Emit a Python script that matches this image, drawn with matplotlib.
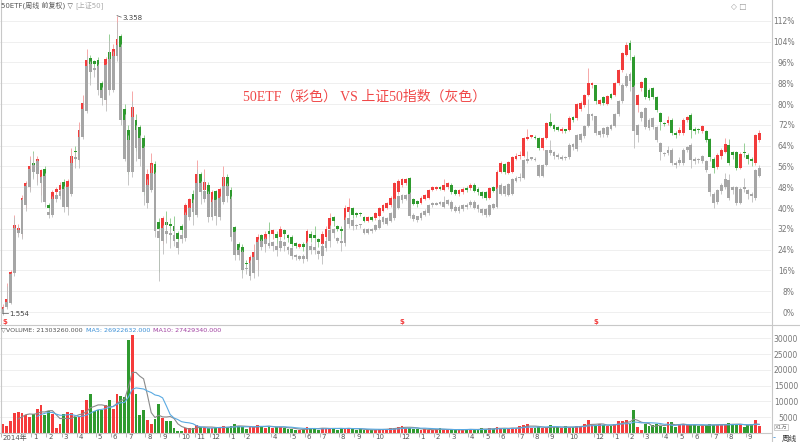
import numpy as np
import pandas as pd
import matplotlib
matplotlib.use("Agg")
import matplotlib.pyplot as plt
from matplotlib.lines import Line2D
from matplotlib.transforms import blended_transform_factory

plt.rcParams["font.family"] = ["DejaVu Sans", "Noto Sans CJK SC"]

# ---- 50ETF weekly candles, % change from the 1.554 low ----
ETF_O = [
    0, 3, 4.5, 16, 31.5, 31, 42, 49, 57.5, 54,
    52, 55, 41, 40, 46, 47, 50, 43, 48, 62,
    61, 70, 80, 97.7, 96.5, 97, 88, 84, 100, 88,
    101, 106, 78, 70, 58, 74, 71, 67, 46, 51,
    57, 34.6, 31, 34.6, 34, 33, 30.5, 33, 32, 40,
    45.5, 41, 53, 47, 49, 40, 46.5, 40, 46, 52,
    47, 32.7, 26, 25, 19, 16, 17, 22, 29.5, 28,
    31, 30, 30, 29, 31.5, 29.5, 29, 26.5, 25, 26,
    25, 30, 29.5, 28, 26, 29, 32, 36.5, 33, 32,
    31, 38.5, 40, 38, 38, 36.5, 35, 36.5, 36, 37,
    39, 40, 41, 42, 46, 49, 49.5, 51.5, 43.5, 42.8,
    42, 43.5, 44, 47, 47.3, 48.2, 47, 48, 49, 47,
    45.5, 46, 47.8, 47.6, 49, 47.5, 46, 46, 44, 48,
    47, 54, 57, 53.5, 54, 59, 60, 60, 66.5, 67.5,
    67.5, 67, 63, 67, 73, 72, 71, 69.5, 70, 70,
    75, 74.6, 78, 79.6, 83.5, 87.3, 87.3, 80, 82.7, 80,
    83.8, 83.5, 88, 93, 99, 103.5, 98, 79.5, 86, 90,
    85.4, 86, 82.7, 76.5, 72.7, 72.7, 74, 69, 68.8, 68.8,
    74, 75.8, 70.4, 70.3, 69.6, 69.6, 66.5, 58.8, 55.8, 60,
    61.5, 64.2, 61.5, 61.5, 55.4, 61.5, 60.4, 58.8, 57.3, 66,
]
ETF_C = [
    2, 5, 15.5, 33.5, 32.5, 44, 49.5, 56, 55, 59,
    54.5, 45, 40, 46, 47.5, 49, 43, 50.5, 60, 61.5,
    70, 80.5, 97, 95, 95.5, 88, 85, 97.5, 88, 101,
    105, 78, 63, 58, 79, 67, 63, 50, 53, 57.5,
    35, 32, 36, 33.5, 33, 31, 28, 31.5, 41, 43.5,
    42, 53, 49.5, 50, 40, 46, 40.5, 47.5, 52, 48,
    32.5, 24, 24, 18, 18.5, 21, 23, 29, 27, 30,
    30, 31.5, 28.5, 32, 30, 28.5, 26, 25.5, 26, 25,
    31, 28.5, 28.5, 27, 30, 32, 36, 35, 32, 31,
    40, 40.5, 37.5, 37.5, 37.8, 35, 36.5, 35.5, 38, 40,
    41, 42, 44, 49.5, 50.5, 51, 51, 43, 41.7, 41.5,
    44, 45, 47, 48, 48, 47.5, 49, 49.5, 46, 45.5,
    47, 47.5, 47, 49, 46.5, 46, 44.5, 44, 47.7, 46.5,
    54, 57.5, 54, 57.7, 59.6, 60, 60.5, 67, 67.5, 67.7,
    67, 63, 67, 72.7, 71.7, 70.5, 70, 70.3, 69.8, 74.8,
    73.8, 80, 80.5, 83.5, 88, 88, 81, 81.5, 80.3, 83,
    82.5, 88, 93, 99.5, 102.7, 100.8, 81, 83.5, 88.5, 82.7,
    82.3, 82.7, 77.7, 73, 72.3, 73.8, 68.8, 68, 70, 73.8,
    75, 70, 69.6, 69.9, 71.5, 66, 59.6, 55.4, 60.4, 62.3,
    64.6, 57.3, 60.5, 55.4, 60.8, 61, 59, 58, 68, 68.8,
]
ETF_H = [
    3, 11, 16, 37.5, 34, 45, 50.5, 60, 62, 60,
    55, 56, 42, 47, 48, 50, 51, 51, 63, 64,
    73, 83.5, 101, 99, 97, 98, 89, 98, 107, 103,
    114, 107, 80, 72, 85, 76, 72, 68, 55, 61,
    58, 36, 37, 39, 36, 37, 31, 34, 42, 44,
    47, 58.5, 54, 55, 50, 47, 47, 48, 56, 53,
    48, 33, 27, 26, 20, 22, 26, 30, 30, 31,
    34.5, 32, 31, 33, 32, 30, 29.5, 27, 26.5, 27,
    32, 31, 33, 28.5, 31, 33, 38, 37, 33.5, 33,
    41, 44, 40.5, 38.5, 38.5, 37, 37, 37, 38.5, 40.5,
    41.5, 42.5, 44.5, 50, 51, 51.5, 51.5, 52, 44, 43,
    44.5, 45.5, 47.5, 48.5, 48.5, 48.6, 51, 50, 49.5, 47.5,
    47.5, 48, 48.5, 49.5, 49.5, 48, 46.5, 46.5, 48, 48.5,
    54.5, 58, 57.5, 58, 60, 61, 62, 67.5, 70.5, 68,
    68, 67.5, 67.5, 73, 76.5, 72.5, 71.5, 71, 70.5, 75.5,
    75.5, 80.5, 81, 84, 94, 88.5, 87.5, 82, 83, 83.5,
    84.3, 88.5, 93.5, 100, 104, 104.5, 99, 84, 89, 90.5,
    86, 86.5, 83, 77, 73, 75.5, 74.5, 69.5, 71, 74.5,
    75.5, 76.5, 71, 70.8, 72, 70, 67, 59.5, 61, 63,
    67, 66.5, 62, 62, 61.5, 65, 61, 59.5, 68.5, 70,
]
ETF_L = [
    0, 2, 4, 15, 30, 29, 40, 47, 52, 50,
    45, 43, 38.5, 39, 45, 46, 41, 40, 47, 58,
    58, 69, 79, 90, 93, 86, 82, 80, 86, 87,
    99, 76, 62, 53, 56, 62, 60, 45, 44, 50,
    33, 15.5, 26, 30, 28, 29, 26, 30, 31, 39,
    37, 40, 45, 46, 38, 39, 37, 39, 45, 46,
    31, 22, 22, 15, 16.5, 14.5, 15, 16, 26, 25,
    29, 28, 26, 28, 28, 27, 25, 24.5, 24.5, 23.5,
    24, 27, 27, 25, 23, 28, 29.5, 33, 31, 28,
    30, 37, 36, 36.5, 37, 34.5, 34.5, 35, 35.5, 36.5,
    38.5, 39.5, 40.5, 41.5, 45.5, 48, 49, 42, 41, 40.5,
    41.5, 43, 43.5, 46.5, 47, 47, 46.5, 47.5, 45.5, 45,
    44.5, 45.5, 46, 47, 46, 45, 44, 43, 43.5, 46,
    46.5, 53.5, 53, 53, 53.5, 58.5, 59, 59.5, 66, 67,
    66.5, 62.5, 62.5, 66.5, 71, 69.5, 69.5, 69, 69, 69.5,
    73, 74, 77.5, 79, 83, 86, 80, 79.5, 79.5, 79.5,
    82, 83, 87.5, 92.5, 98.5, 97, 78, 77, 85, 82,
    81.5, 82, 77, 70, 71.5, 72, 68, 67, 68, 68,
    73, 67, 68.5, 69, 69, 65.5, 58, 53.5, 55, 59,
    61, 56.5, 59, 54.5, 55, 59.5, 57, 56, 56.5, 65.5,
]

# ---- SSE 50 index weekly candles (grey), same % scale ----
IDX_O = [
    -0.5, 2, 3.5, 15, 30.5, 30, 41, 48, 56.5, 53,
    49.5, 52.5, 38.5, 37.5, 43.5, 44.5, 47.5, 40.5, 45.5, 59.5,
    58.5, 67.5, 77.5, 95.2, 94, 94.5, 85.5, 81.5, 97.5, 85.5,
    98.5, 102, 74, 66, 54, 70, 67, 63, 42, 47,
    53, 31.1, 27.5, 31.1, 30.5, 29.5, 27, 29.5, 28.5, 36.5,
    42, 37.5, 49.5, 43.5, 45.5, 36.5, 43, 36.5, 42.5, 48.5,
    43.5, 30.7, 24, 23, 17, 14, 15, 20, 27.5, 26,
    26.5, 25.5, 25.5, 24.5, 27, 25, 24.5, 22, 20.5, 21.5,
    20.5, 25.5, 25, 23.5, 21.5, 24.5, 27.5, 32, 28.5, 27.5,
    26.5, 34, 35.5, 33.5, 33.5, 32, 30.5, 32, 31.5, 32.5,
    34.5, 34, 35, 36, 40, 43, 43.5, 45.5, 37.5, 36.8,
    36, 37.5, 38, 41, 41.3, 42.2, 40.5, 41.5, 42.5, 40.5,
    39, 39.5, 41.3, 41.1, 42.5, 41, 39.5, 39.5, 37.5, 41.5,
    40.5, 45.5, 48.5, 45, 45.5, 50.5, 51.5, 51.5, 58, 59,
    59, 56.5, 52.5, 56.5, 62.5, 61.5, 60.5, 59, 59.5, 59.5,
    64.5, 62.6, 66, 67.6, 71.5, 75.3, 75.3, 68, 70.7, 68,
    71.8, 71.5, 76, 81, 87, 91.5, 86.5, 68, 74.5, 78.5,
    73.9, 74.5, 71.2, 65, 61.2, 61.2, 62.5, 57.5, 57.3, 57.3,
    62.5, 64.3, 58.9, 58.8, 58.1, 58.1, 53, 45.3, 42.3, 46.5,
    48, 50.7, 48, 48, 41.9, 48, 46.9, 45.3, 43.8, 52.5,
]
IDX_C = [
    1, 4, 14.5, 32.5, 31.5, 43, 48.5, 55, 54, 58,
    52, 42.5, 37.5, 43.5, 45, 46.5, 40.5, 48, 57.5, 59,
    67.5, 78, 94.5, 92.5, 93, 85.5, 82.5, 95, 85.5, 98.5,
    102.5, 74, 59, 54, 75, 63, 59, 46, 49, 53.5,
    31, 28.5, 32.5, 30, 29.5, 27.5, 24.5, 28, 37.5, 40,
    38.5, 49.5, 46, 46.5, 36.5, 42.5, 37, 44, 48.5, 44.5,
    29, 22, 22, 16, 16.5, 19, 21, 27, 25, 28,
    25.5, 27, 24, 27.5, 25.5, 24, 21.5, 21, 21.5, 20.5,
    26.5, 24, 24, 22.5, 25.5, 27.5, 31.5, 30.5, 27.5, 26.5,
    35.5, 36, 33, 33, 33.3, 30.5, 32, 31, 33.5, 35.5,
    36.5, 36, 38, 43.5, 44.5, 45, 45, 37, 35.7, 35.5,
    38, 39, 41, 42, 42, 41.5, 42.5, 43, 39.5, 39,
    40.5, 41, 40.5, 42.5, 40, 39.5, 38, 37.5, 41.2, 40,
    47.5, 49, 45.5, 49.2, 51.1, 51.5, 52, 58.5, 59, 59.2,
    58.5, 52.5, 56.5, 62.2, 61.2, 60, 59.5, 59.8, 59.3, 64.3,
    63.3, 68, 68.5, 71.5, 76, 76, 69, 69.5, 68.3, 71,
    70.5, 76, 81, 87.5, 90.7, 88.8, 69.5, 72, 77, 71.2,
    70.8, 71.2, 66.2, 61.5, 60.8, 62.3, 57.3, 56.5, 58.5, 62.3,
    63.5, 58.5, 58.1, 58.4, 60, 54.5, 46.1, 41.9, 46.9, 48.8,
    51.1, 43.8, 47, 41.9, 47.3, 47.5, 45.5, 44.5, 54.5, 55.3,
]
IDX_H = [
    2, 10, 15, 36.5, 33, 44, 49.5, 59, 61, 59,
    52.5, 53.5, 39.5, 44.5, 45.5, 47.5, 48.5, 48.5, 60.5, 61.5,
    70.5, 81, 98.5, 96.5, 94.5, 95.5, 86.5, 95.5, 104.5, 100.5,
    111.5, 103, 76, 68, 81, 72, 68, 64, 51, 57,
    54, 32.5, 33.5, 35.5, 32.5, 33.5, 27.5, 30.5, 38.5, 40.5,
    43.5, 55, 50.5, 51.5, 46.5, 43.5, 43.5, 44.5, 52.5, 49.5,
    44.5, 31, 25, 24, 18, 20, 24, 28, 28, 29,
    30, 27.5, 26.5, 28.5, 27.5, 25.5, 25, 22.5, 22, 22.5,
    27.5, 26.5, 28.5, 24, 26.5, 28.5, 33.5, 32.5, 29, 28.5,
    36.5, 39.5, 36, 34, 34, 32.5, 32.5, 32.5, 34, 36,
    37, 36.5, 38.5, 44, 45, 45.5, 45.5, 46, 38, 37,
    38.5, 39.5, 41.5, 42.5, 42.5, 42.6, 44.5, 43.5, 43, 41,
    41, 41.5, 42, 43, 43, 41.5, 40, 40, 41.5, 42,
    48, 49.5, 49, 49.5, 51.5, 52.5, 53.5, 59, 62, 59.5,
    59.5, 57, 57, 62.5, 66, 62, 61, 60.5, 60, 65,
    65, 68.5, 69, 72, 82, 76.5, 75.5, 70, 71, 71.5,
    72.3, 76.5, 81.5, 88, 92, 92.5, 87.5, 72.5, 77.5, 79,
    74.5, 75, 71.5, 65.5, 61.5, 64, 63, 58, 59.5, 63,
    64, 65, 59.5, 59.3, 60.5, 58.5, 53.5, 46, 47.5, 49.5,
    53.5, 53, 48.5, 48.5, 48, 51.5, 47.5, 46, 55, 56.5,
]
IDX_L = [
    -1, 1, 3, 14, 29, 28, 39, 46, 51, 49,
    42.5, 40.5, 36, 36.5, 42.5, 43.5, 38.5, 37.5, 44.5, 55.5,
    55.5, 66.5, 76.5, 87.5, 90.5, 83.5, 79.5, 77.5, 83.5, 84.5,
    96.5, 72, 58, 49, 52, 58, 56, 41, 40, 46,
    29, 12, 22.5, 26.5, 24.5, 25.5, 22.5, 26.5, 27.5, 35.5,
    33.5, 36.5, 41.5, 42.5, 34.5, 35.5, 33.5, 35.5, 41.5, 42.5,
    27.5, 20, 20, 13, 14.5, 12.5, 13, 14, 24, 23,
    24.5, 23.5, 21.5, 23.5, 23.5, 22.5, 20.5, 20, 20, 19,
    19.5, 22.5, 22.5, 20.5, 18.5, 23.5, 25, 28.5, 26.5, 23.5,
    25.5, 32.5, 31.5, 32, 32.5, 30, 30, 30.5, 31, 32,
    34, 33.5, 34.5, 35.5, 39.5, 42, 43, 36, 35, 34.5,
    35.5, 37, 37.5, 40.5, 41, 41, 40, 41, 39, 38.5,
    38, 39, 39.5, 40.5, 39.5, 38.5, 37.5, 36.5, 37, 39.5,
    40, 45, 44.5, 44.5, 45, 50, 50.5, 51, 57.5, 58.5,
    58, 52, 52, 56, 60.5, 59, 59, 58.5, 58.5, 59,
    62.5, 62, 65.5, 67, 71, 74, 68, 67.5, 67.5, 67.5,
    70, 71, 75.5, 80.5, 86.5, 85, 63, 65.5, 73.5, 70.5,
    70, 70.5, 65.5, 58.5, 60, 60.5, 56.5, 55.5, 56.5, 56.5,
    61.5, 55.5, 57, 57.5, 57.5, 54, 44.5, 40, 41.5, 45.5,
    47.5, 43, 45.5, 41, 41.5, 46, 43.5, 42.5, 43, 52,
]

# ---- 50ETF weekly volume, in units of 10k ----
VOLUME = [
    3000, 2300, 3900, 6300, 6700, 6300, 5700, 5100, 5900, 7700,
    9000, 5600, 7000, 6000, 1500, 2700, 5900, 6700, 6300, 5000,
    5000, 7300, 10400, 12300, 7000, 7400, 7400, 9000, 10400, 7700,
    12300, 11700, 11500, 29400, 31000, 12300, 5700, 7300, 4000, 3000,
    4500, 9200, 4800, 3800, 3800, 1500, 600, 600, 1700, 1600,
    1700, 2400, 1900, 2000, 1500, 1600, 1800, 1500, 2100, 1800,
    2100, 2900, 2300, 1900, 1400, 1800, 2000, 2600, 2200, 1700,
    2300, 1500, 1900, 2000, 1600, 1300, 1200, 1000, 1100, 900,
    1800, 1600, 1700, 1000, 1500, 1700, 1300, 1700, 1100, 1300,
    1500, 1700, 1300, 1000, 1200, 900, 900, 1000, 1100, 1200,
    1300, 1200, 1600, 1700, 1900, 2300, 1500, 1700, 1400, 1200,
    800, 1200, 1100, 900, 1300, 1500, 1000, 900, 900, 1100,
    1100, 1000, 1300, 1200, 1000, 1100, 1600, 1200, 1500, 1300,
    1800, 1600, 1400, 1300, 1700, 1600, 2300, 2500, 2800, 1700,
    1600, 1800, 1600, 1700, 2400, 1800, 1900, 1500, 2100, 2000,
    1900, 2200, 2100, 2700, 4100, 2500, 2400, 2700, 2500, 2300,
    2300, 2900, 3700, 3800, 4200, 3000, 7300, 1800, 800, 2900,
    2200, 2400, 2900, 2300, 1900, 3400, 3500, 1900, 2700, 2700,
    2500, 2600, 2500, 2200, 2300, 2600, 3000, 2600, 2500, 2600,
    2700, 3100, 2900, 2600, 2668, 2000, 2400, 2830, 4100, 2130,
]

PCT_TICKS = list(range(0, 113, 8))
VOL_TICKS = [5000, 10000, 15000, 20000, 25000, 30000]
DIVIDEND_WEEKS = [0.5, 105, 156]
MONTH_POS = [0, 8, 12, 16, 20, 25, 29, 33, 38, 42, 47, 51, 55, 60, 64, 71, 76, 80,
             84, 89, 93, 98, 105, 110, 114, 118, 123, 127, 131, 136, 140, 144, 149,
             156, 161, 165, 169, 174, 178, 182, 187, 191, 196]
MONTH_LABELS = ["2014年", "1", "2", "3", "4", "5", "6", "7", "8", "9", "10", "11", "12",
                "1", "2", "4", "5", "6", "7", "8", "9", "10", "12", "1", "2", "3", "4",
                "5", "6", "7", "8", "9", "10", "12", "1", "2", "3", "4", "5", "6", "7",
                "8", "9"]

RED, GREEN, GREY = "#f23c3c", "#2e9a2e", "#a6a6a6"
W, H = 800, 442
SMALL = ["Liberation Sans Narrow", "DejaVu Sans", "Noto Sans CJK SC"]


def px(x, y):
    """figure fraction from pixel position (origin top-left)"""
    return x / W, 1 - y / H


def candles(ax, o, c, h, l, up, down, wick_up, wick_down, z):
    o, c, h, l = map(np.asarray, (o, c, h, l))
    x = np.arange(len(o))
    rise = c >= o
    wc = np.where(rise, wick_up, wick_down)
    ax.vlines(x, l, h, colors=wc, lw=0.6, zorder=z)
    body = np.maximum(np.abs(c - o), 0.45)
    ax.bar(x, body, bottom=np.minimum(o, c), width=0.78,
           color=np.where(rise, up, down), linewidth=0, zorder=z + 0.1)


def text_run(fig, x, y, parts, fs, gap=3):
    """texts placed one after another along a line, starting at pixel x"""
    r = fig.canvas.get_renderer()
    for s, col in parts:
        t = fig.text(*px(x, y), s, fontsize=fs, color=col, va="center", family=SMALL)
        x = t.get_window_extent(r).x1 + gap


fig = plt.figure(figsize=(W / 100, H / 100), dpi=100)
right = 771
ax_p = fig.add_axes([0, 1 - 325 / H, right / W, 325 / H])
ax_v = fig.add_axes([0, 1 - 433 / H, right / W, 108 / H])
xlim = (-0.79, 202.1)

# ---- price pane ----
candles(ax_p, ETF_O, ETF_C, ETF_H, ETF_L, RED, GREEN, "#f59a9a", "#86c886", 2)
candles(ax_p, IDX_O, IDX_C, IDX_H, IDX_L, GREY, GREY, "#bdbdbd", "#bdbdbd", 3)
ax_p.set_xlim(*xlim)
ax_p.set_ylim(-5, 120)
ax_p.set_xticks([])
ax_p.set_yticks(PCT_TICKS)
ax_p.set_yticklabels([f"{t}%" for t in PCT_TICKS])
ax_p.yaxis.tick_right()
ax_p.tick_params(axis="y", length=0, pad=17, labelsize=5.5, labelcolor="#777777")
for lab in ax_p.get_yticklabels():
    lab.set_horizontalalignment("right")
ax_p.grid(axis="y", color="#ececec", lw=0.6, zorder=0)
for s in ax_p.spines.values():
    s.set_visible(False)

# high / low markers
hi = int(np.argmax(ETF_H))
ax_p.plot([hi, hi + 1.1], [ETF_H[hi], ETF_H[hi] - 0.6], color="#555555", lw=0.5, zorder=5)
ax_p.text(hi + 1.4, ETF_H[hi] - 0.8, "3.358", fontsize=5, color="#444444", va="center")
lo = int(np.argmin(ETF_L))
ax_p.plot([lo - 0.3, lo + 1.3], [ETF_L[lo] - 0.4, ETF_L[lo] - 0.4], color="#555555", lw=0.5, zorder=5)
ax_p.text(lo + 1.6, ETF_L[lo] - 0.6, "1.554", fontsize=5, color="#444444", va="center")

tr = blended_transform_factory(ax_p.transData, ax_p.transAxes)
for d in DIVIDEND_WEEKS:
    ax_p.text(d, 0.01, "$", transform=tr, fontsize=5, color=RED, ha="center",
              va="center", fontweight="bold")

fig.text(*px(365, 97), "50ETF（彩色） VS 上证50指数（灰色）", color="#f04848",
         fontsize=10, ha="center", va="center",
         family=["Liberation Serif", "Noto Sans CJK SC"])

# ---- volume pane ----
vx = np.arange(len(VOLUME))
rise = np.asarray(ETF_C) >= np.asarray(ETF_O)
ax_v.bar(vx, VOLUME, width=0.78, color=np.where(rise, "#f53b3b", "#2f9a2f"),
         linewidth=0, zorder=2)
vol = pd.Series(VOLUME, dtype=float)
ax_v.plot(vx, vol.rolling(5).mean(), color="#8a8a8a", lw=0.8, zorder=3)
ax_v.plot(vx, vol.rolling(10).mean(), color="#5aaae2", lw=0.8, zorder=3)
ax_v.set_xlim(*xlim)
ax_v.set_ylim(0, 34180)
ax_v.set_yticks(VOL_TICKS)
ax_v.yaxis.tick_right()
ax_v.tick_params(axis="y", length=0, pad=19.5, labelsize=5.5, labelcolor="#777777")
for lab in ax_v.get_yticklabels():
    lab.set_horizontalalignment("right")
ax_v.grid(axis="y", color="#ececec", lw=0.6, zorder=0)
ax_v.set_xticks([p - 0.6 for p in MONTH_POS])
ax_v.set_xticklabels([])
ax_v.tick_params(axis="x", length=3, width=0.5, color="#999999")
for s in ax_v.spines.values():
    s.set_visible(False)
trv = blended_transform_factory(ax_v.transData, ax_v.transAxes)
for p, lab in zip(MONTH_POS, MONTH_LABELS):
    ax_v.text(p - 0.1, -0.04, lab, transform=trv, fontsize=5, color="#555555",
              ha="left", va="center")

# ---- headers and frame ----
text_run(fig, 1, 5, [("50ETF(周线 前复权) ▽", "#555555"), ("[上证50]", "#aaaaaa")], 5)
text_run(fig, 1, 330, [("▽VOLUME: 21303260.000", "#555555"),
                       ("MA5: 26922632.000", "#3b8fd6"),
                       ("MA10: 27429340.000", "#a040a0")], 4.6)
fig.text(*px(731, 6), "◇ □", fontsize=5.5, color="#999999", va="center")
fig.text(*px(789, 438), "周线", fontsize=5.5, color="#333333", ha="center", va="center")
fig.text(*px(781, 427), "X1万", fontsize=4, color="#777777", ha="center", va="center",
         bbox=dict(boxstyle="square,pad=0.15", fc="white", ec="#aaaaaa", lw=0.4))
fig.text(*px(774, 438), "-", fontsize=6, color="#3b8fd6", ha="center", va="center")

for (x0, y0), (x1, y1) in [((right + 0.5, 0), (right + 0.5, H)),
                           ((0, 325), (W, 325)),
                           ((0, 433), (right, 433)),
                           ((0.5, 0), (0.5, 433))]:
    fig.add_artist(Line2D([x0 / W, x1 / W], [1 - y0 / H, 1 - y1 / H],
                          color="#c8c8c8", lw=0.8))

fig.savefig("out.png", dpi=100)
